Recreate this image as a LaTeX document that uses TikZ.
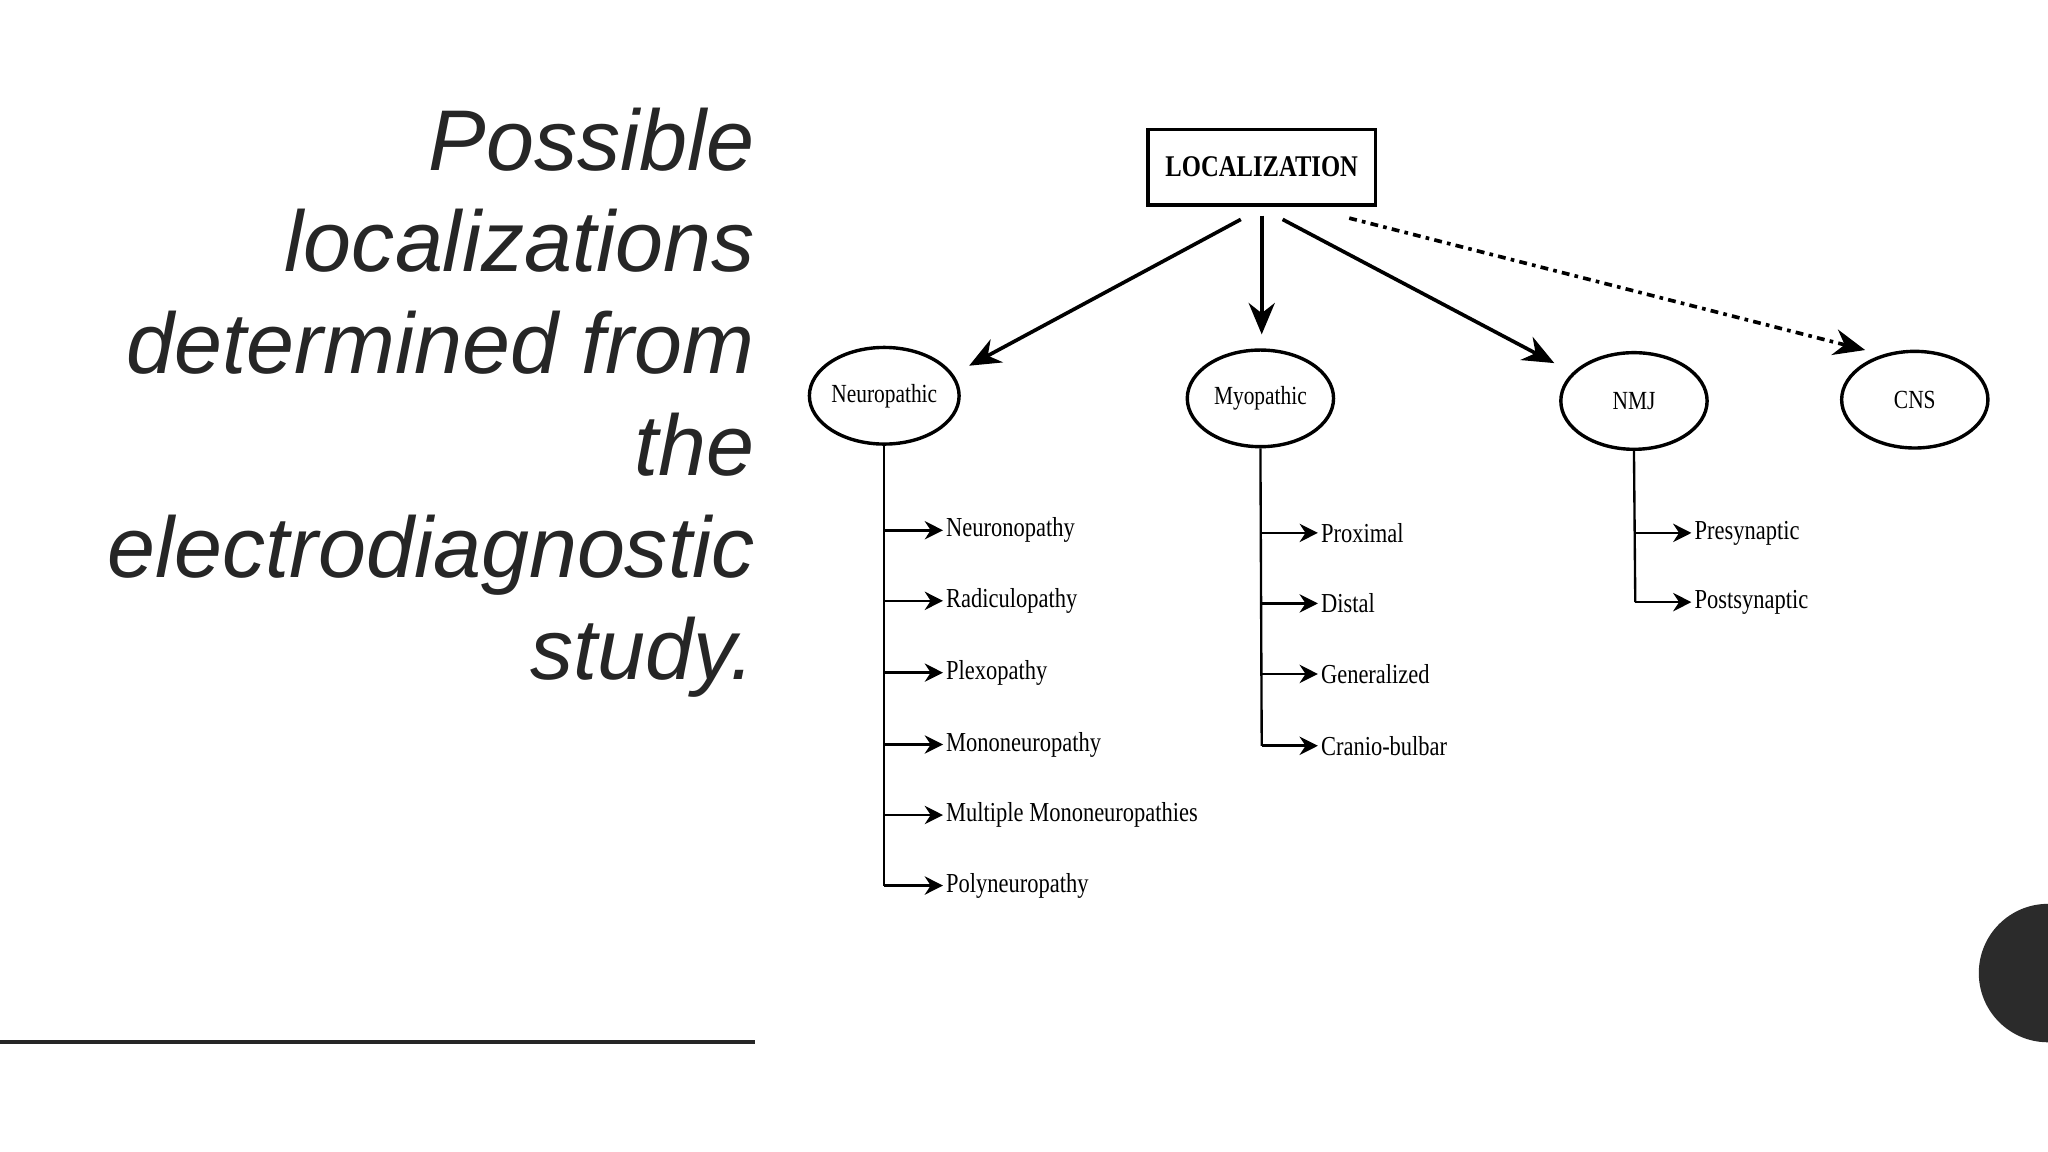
\documentclass[tikz,border=0pt]{standalone}
\usepackage{fontspec}
\setmainfont{Liberation Serif}
\newfontfamily\titlefont{Liberation Sans}
\usetikzlibrary{arrows.meta,shapes.geometric}
\newcommand{\nar}[1]{\scalebox{0.82}[1]{#1}}
\begin{document}
\begin{tikzpicture}[x=0.5pt,y=-0.5pt,
  ell/.style={draw,line width=1.3pt,ellipse,minimum width=56pt,minimum height=37pt,inner sep=0pt,font=\fontsize{10}{12}\selectfont},
  big/.style={-{Stealth[length=12pt,width=10pt]},line width=1.4pt},
  small/.style={-{Stealth[length=7pt,width=7pt]},line width=1pt},
  lab/.style={anchor=west,inner sep=1pt,font=\fontsize{10.5}{12}\selectfont},
  tline/.style={line width=0.9pt}]
\useasboundingbox (0,0) rectangle (1568,882);
\fill[white] (0,0) rectangle (1568,882);
% title
\node[anchor=north east,align=right,inner sep=0pt,font=\titlefont\itshape\fontsize{33}{39}\selectfont,text=black!85] (title) at (578,82)
 {Possible\\localizations\\determined from\\the\\electrodiagnostic\\study.};
\coordinate (l1) at (0,798); \coordinate (l2) at (578,798);
\draw[line width=1.5pt,black!85] (l1) -- (l2);
\fill[black!83] (1568,745) circle[radius=53];
% diagram
\node[draw,line width=1.3pt,minimum width=87pt,minimum height=29pt,font=\bfseries\fontsize{11.5}{13}\selectfont] (loc) at (966,128) {\nar{LOCALIZATION}};
\node[ell] (neu) at (677,303) {\nar{Neuropathic}};
\node[ell] (myo) at (965,305) {\nar{Myopathic}};
\node[ell] (nmj) at (1251,307) {\nar{NMJ}};
\node[ell] (cns) at (1466,306) {\nar{CNS}};
\coordinate (a1) at (950,168); \coordinate (a2) at (966,165); \coordinate (a3) at (982,168); \coordinate (a4) at (1033,167);
\coordinate (b1) at (742,280); \coordinate (b2) at (966,256); \coordinate (b3) at (1190,278); \coordinate (b4) at (1428,268);
\draw[big] (a1) -- (b1);
\draw[big] (a2) -- (b2);
\draw[big] (a3) -- (b3);
\draw[big,dash dot] (a4) -- (b4);
% Neuropathic
\draw[tline] (neu.south) -- (677,678);
\foreach \y/\t in {406/Neuronopathy,460/Radiculopathy,515/Plexopathy,570/Mononeuropathy,624/Multiple Mononeuropathies,678/Polyneuropathy}{
  \node[lab] (n\y) at (722,\y) {\nar{\t}};
  \draw[small] (677,\y) -- (n\y.west);}
% Myopathic
\draw[tline] (myo.south) -- (966,571);
\foreach \y/\t in {408/Proximal,462/Distal,516/Generalized,571/Cranio-bulbar}{
  \node[lab] (m\y) at (1009,\y) {\nar{\t}};
  \draw[small] (966,\y) -- (m\y.west);}
% NMJ
\draw[tline] (nmj.south) -- (1252,461);
\foreach \y/\t in {408/Presynaptic,461/Postsynaptic}{
  \node[lab] (j\y) at (1295,\y) {\nar{\t}};
  \draw[small] (1252,\y) -- (j\y.west);}
\end{tikzpicture}
\end{document}
